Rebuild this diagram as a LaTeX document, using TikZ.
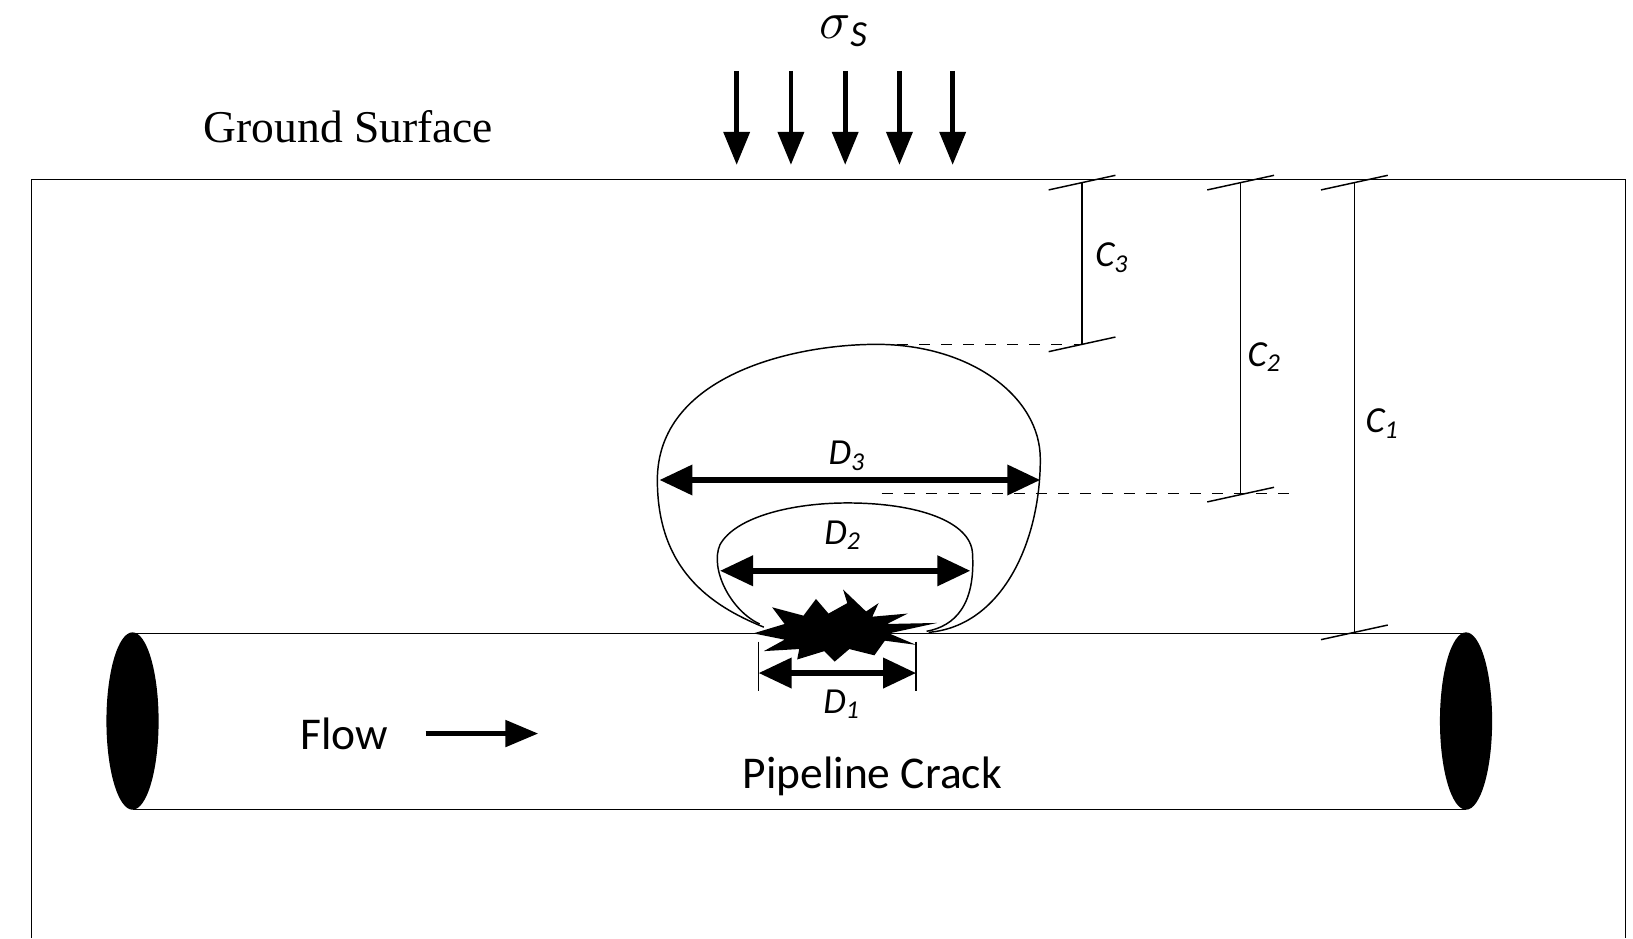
\documentclass[tikz,border=0pt]{standalone}
\usepackage{fontspec}
\setmainfont{Liberation Serif}
\setsansfont{Carlito}
\usetikzlibrary{arrows.meta}
\begin{document}
\begin{tikzpicture}[x=0.01cm,y=-0.01cm,
    dim/.style={line width=1.6pt,{Triangle[length=9pt,width=8pt]}-{Triangle[length=9pt,width=8pt]}},
    load/.style={line width=1.3pt,-{Triangle[length=9pt,width=7pt]}},
    tick/.style={thin},
    lab/.style={font=\sffamily\itshape\fontsize{10}{12}\selectfont},
    every node/.style={inner sep=0pt}
]
\useasboundingbox (0,0) rectangle (1565,899);

% Boden
\draw[thin] (30,899) -- (30,172) -- (1558,172) -- (1558,899);
\node[font=\fontsize{12.4}{14}\selectfont] (gs) at (334,121) {Ground Surface};
\node[font=\fontsize{15}{17}\selectfont] (sig) at (808,30) {$\sigma$\raisebox{-0.35ex}{\sffamily\itshape\fontsize{10}{12}\selectfont S}};
\foreach \x [count=\i] in {706,758,810,862,913} {
  \coordinate (s\i) at (\x,68);
  \coordinate (e\i) at (\x,158);
  \draw[load] (s\i) -- (e\i);
}

% Rohr
\draw[thin] (127,607) -- (1405,607);
\draw[thin] (127,776) -- (1405,776);
\fill (127,691) ellipse [x radius=25,y radius=85];
\fill (1405,691) ellipse [x radius=25,y radius=85];
\node[font=\sffamily\fontsize{12.4}{14}\selectfont] (flow) at (330,703) {Flow};
\coordinate (fa) at (408,703);
\coordinate (fb) at (516,703);
\draw[load,line width=1.6pt] (fa) -- (fb);
\node[font=\sffamily\fontsize{12.4}{14}\selectfont] (crack) at (836,744) {Pipeline Crack};

% Riss
\fill (722,607) -- (752,598) -- (740,582) -- (770,590) -- (782,574) -- (794,588) -- (812,578)
  -- (808,565) -- (830,586) -- (842,578) -- (836,591) -- (870,588) -- (850,598) -- (898,597)
  -- (852,607) -- (878,618) -- (848,614) -- (838,628) -- (814,622) -- (800,634) -- (790,624)
  -- (764,632) -- (766,622) -- (732,624) -- (752,613) -- cycle;

% Blasen
\draw[thin] (728,598) .. controls (700,585) and (680,545) .. (690,522)
  .. controls (705,495) and (760,482) .. (812,482)
  .. controls (880,482) and (930,500) .. (932,530)
  .. controls (935,580) and (915,600) .. (888,605);
\draw[thin] (732,601) .. controls (680,580) and (630,545) .. (630,460)
  .. controls (630,360) and (760,330) .. (840,330)
  .. controls (930,330) and (997,380) .. (997,440)
  .. controls (997,520) and (960,600) .. (890,606);

% Durchmesser
\coordinate (d1a) at (727,645); \coordinate (d1b) at (878,645);
\draw[thin] (727,615) -- (727,662);
\draw[thin] (878,615) -- (878,662);
\draw[dim] (d1a) -- (d1b);
\node[lab] (D1) at (807,675) {D\textsubscript{1}};
\coordinate (d2a) at (690,547); \coordinate (d2b) at (930,547);
\draw[dim] (d2a) -- (d2b);
\node[lab] (D2) at (808,513) {D\textsubscript{2}};
\coordinate (d3a) at (632,460); \coordinate (d3b) at (997,460);
\draw[dim] (d3a) -- (d3b);
\node[lab] (D3) at (812,437) {D\textsubscript{3}};

% Tiefen
\draw[thin,dashed] (860,330) -- (1037,330);
\draw[thin,dashed] (845,473) -- (1237,473);
\foreach \n/\x/\yb/\lx/\ly in {3/1037/330/1066/247, 2/1189/474/1212/342, 1/1298/606/1325/406} {
  \coordinate (c\n t) at (\x,175);
  \coordinate (c\n b) at (\x,\yb);
  \draw[thin] (c\n t) -- (c\n b);
  \draw[tick] ([shift={(-32,7)}]c\n t) -- ([shift={(32,-7)}]c\n t);
  \draw[tick] ([shift={(-32,7)}]c\n b) -- ([shift={(32,-7)}]c\n b);
  \node[lab] (C\n) at (\lx,\ly) {C\textsubscript{\n}};
}
\end{tikzpicture}
\end{document}
